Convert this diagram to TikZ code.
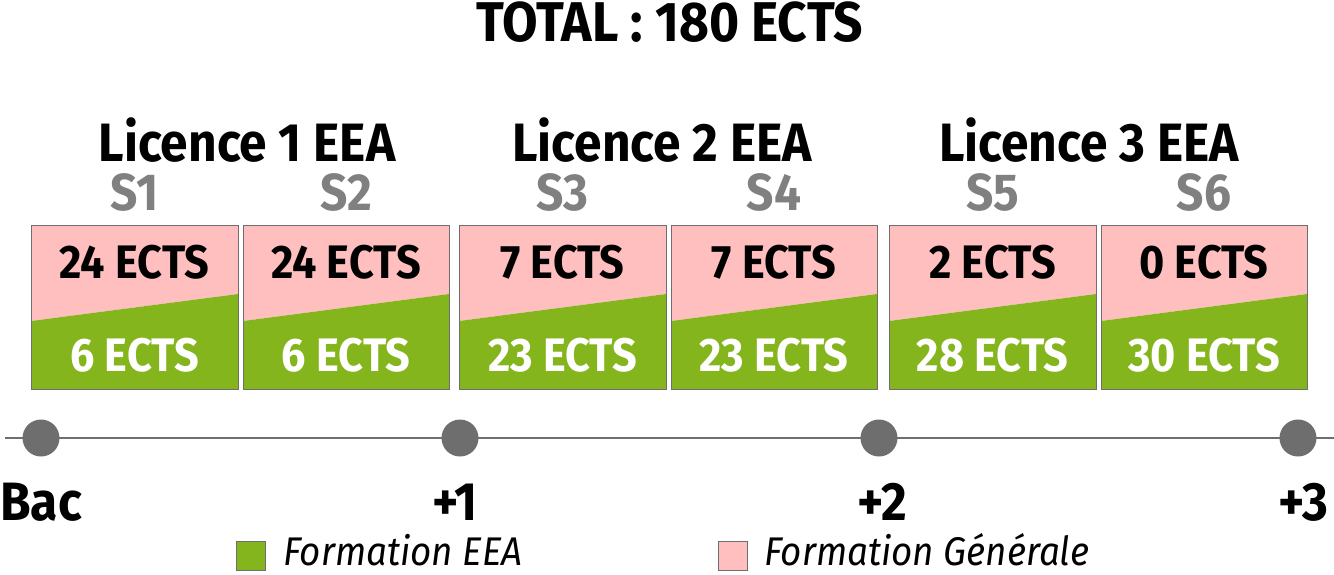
\documentclass[tikz,border=0pt]{standalone}
\usepackage{fontspec}
\setmainfont{Fira Sans}[FakeStretch=0.92]
\definecolor{pinkc}{HTML}{FFBFBF}
\definecolor{greenc}{HTML}{85B51C}
\definecolor{grayc}{HTML}{6E6E6E}
\definecolor{slab}{HTML}{808080}
\begin{document}
\begin{tikzpicture}[x=1pt,y=-1pt,
  big/.style={font=\fontsize{54}{54}\selectfont\bfseries, inner sep=0},
  ects/.style={font=\fontsize{47}{47}\selectfont\bfseries, inner sep=0},
  sem/.style={font=\fontsize{52}{52}\selectfont\bfseries, text=slab, inner sep=0},
  dot/.style={circle, fill=grayc, minimum size=37, inner sep=0},
  leg/.style={font=\fontsize{40}{40}\selectfont\itshape, inner sep=0, anchor=west}]
\useasboundingbox (0,0) rectangle (1334,574);
\node[big, font=\fontsize{56}{56}\selectfont\bfseries] (title) at (670,22) {TOTAL : 180 ECTS};
\node[big] (l1) at (247,140) {Licence 1 EEA};
\node[big] (l2) at (662,140) {Licence 2 EEA};
\node[big] (l3) at (1089,140) {Licence 3 EEA};
\foreach \n/\a/\b/\t/\g in {1/31/238/24/6, 2/243/449/24/6, 3/459/666/7/23, 4/671/877/7/23, 5/889/1096/2/28, 6/1101/1307/0/30}{
  \fill[pinkc] (\a,225) -- (\b,225) -- (\b,294) -- (\a,321) -- cycle;
  \fill[greenc] (\a,321) -- (\b,294) -- (\b,389) -- (\a,389) -- cycle;
  \draw[grayc, line width=1] (\a,225) rectangle (\b,389);
  \node[sem] (s\n) at ({(\a+\b)/2},192) {S\n};
  \node[ects] (p\n) at ({(\a+\b)/2},262) {\t{} ECTS};
  \node[ects, text=white] (g\n) at ({(\a+\b)/2},355) {\g{} ECTS};
}
\coordinate (ls) at (5,438);
\coordinate (le) at (1334,438);
\draw[grayc, line width=2.5] (ls) -- (le);
\node[dot] (d0) at (41,438) {};
\node[dot] (d1) at (460,438) {};
\node[dot] (d2) at (879,438) {};
\node[dot] (d3) at (1298,438) {};
\node[big, anchor=west] (t0) at (0,502) {Bac};
\node[big] (t1) at (455,502) {+1};
\node[big] (t2) at (882,502) {+2};
\node[big, anchor=east] (t3) at (1328,502) {+3};
\draw[grayc, fill=greenc] (236,541) rectangle (265,570);
\node[leg] (lg1) at (283,550) {Formation EEA};
\draw[grayc, fill=pinkc] (718,541) rectangle (747,570);
\node[leg] (lg2) at (764,550) {Formation Générale};
\end{tikzpicture}
\end{document}
